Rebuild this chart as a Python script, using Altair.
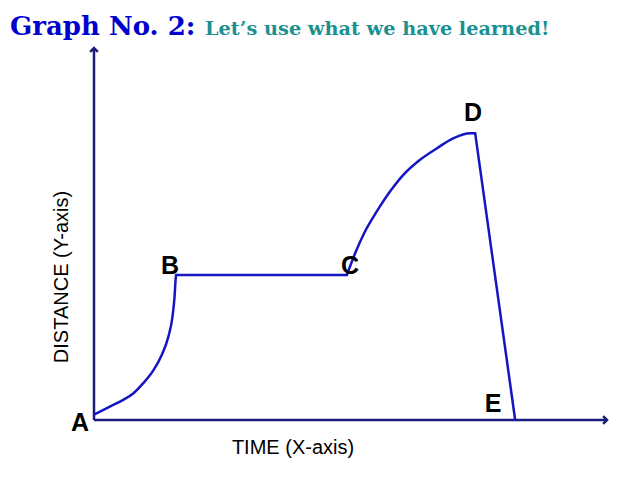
import altair as alt
import pandas as pd

# Curve path A -> B -> C -> D -> E (data units: x 0..100 time, y 0..100 distance)
seg_ab_x = [0.2, 3.1, 5.7, 7.7, 9.6, 11.6, 13.2, 14.5, 15.3, 15.7, 15.9, 16.0]
seg_ab_y = [1.6, 3.6, 5.4, 7.2, 9.9, 13.4, 17.5, 22.4, 27.8, 33.1, 37.6, 39.0]
seg_bc_x = [16.0, 49.3]
seg_bc_y = [39.0, 39.0]
seg_cd_x = [49.3, 50.9, 52.8, 55.1, 57.7, 60.3, 63.5, 66.8, 70.0, 73.3, 74.3]
seg_cd_y = [39.0, 44.8, 50.6, 56.0, 61.4, 65.9, 69.9, 73.0, 75.7, 77.1, 77.1]
seg_de_x = [74.3, 82.1]
seg_de_y = [77.1, 0.0]

# Point labels
label_text = ["A", "B", "C", "D", "E"]
label_x = [-2.7, 14.8, 49.9, 73.9, 77.8]
label_y = [-0.8, 41.4, 41.4, 82.5, 4.3]

# Axis lines
axis_x = [0, 0]
axis_x2 = [100, 0]
axis_y = [0, 0]
axis_y2 = [0, 100]

W, H = 513, 372

rows = []
for seg, (sx, sy) in enumerate([(seg_ab_x, seg_ab_y), (seg_bc_x, seg_bc_y),
                                (seg_cd_x, seg_cd_y), (seg_de_x, seg_de_y)]):
    for i, (a, b) in enumerate(zip(sx, sy)):
        rows.append({"x": a, "y": b, "seg": seg, "order": i})
curve = pd.DataFrame(rows)
labels = pd.DataFrame({"x": label_x, "y": label_y, "t": label_text})
axes = pd.DataFrame({"x": axis_x, "x2": axis_x2, "y": axis_y, "y2": axis_y2})
heads = pd.DataFrame({"x": [100, 0], "y": [0, 100], "dir": ["right", "up"]})

xs = alt.Scale(domain=[0, 100], nice=False, zero=False)
ys = alt.Scale(domain=[0, 100], nice=False, zero=False)

axis_color = "#1c1c7a"
curve_color = "#1515c4"

base_axes = alt.Chart(axes).mark_rule(color=axis_color, strokeWidth=2.5).encode(
    x=alt.X("x:Q", scale=xs, axis=None),
    x2="x2:Q",
    y=alt.Y("y:Q", scale=ys, axis=None),
    y2="y2:Q",
)

head_right = alt.Chart(heads[heads["dir"] == "right"]).mark_point(
    shape="M-1,-1L0,0L-1,1", size=60, filled=False, color=axis_color, strokeWidth=2.5, opacity=1
).encode(x=alt.X("x:Q", scale=xs, axis=None), y=alt.Y("y:Q", scale=ys, axis=None))

head_up = alt.Chart(heads[heads["dir"] == "up"]).mark_point(
    shape="M-1,1L0,0L1,1", size=60, filled=False, color=axis_color, strokeWidth=2.5, opacity=1
).encode(x=alt.X("x:Q", scale=xs, axis=None), y=alt.Y("y:Q", scale=ys, axis=None))

line = alt.Chart(curve).mark_line(color=curve_color, strokeWidth=2.5, interpolate="monotone",
                                  strokeJoin="round", strokeCap="round").encode(
    x=alt.X("x:Q", scale=xs, axis=None),
    y=alt.Y("y:Q", scale=ys, axis=None),
    detail="seg:N",
    order="order:Q",
)

text = alt.Chart(labels).mark_text(
    font="Liberation Sans", fontWeight="bold", fontSize=25, color="black", baseline="middle", align="center"
).encode(
    x=alt.X("x:Q", scale=xs, axis=None),
    y=alt.Y("y:Q", scale=ys, axis=None),
    text="t:N",
)

ytitle = alt.Chart(pd.DataFrame({"t": ["DISTANCE (Y-axis)"]})).mark_text(
    font="Liberation Sans", fontSize=20, color="black", angle=270, align="center", baseline="middle"
).encode(x=alt.value(-32), y=alt.value(229), text="t:N")

xtitle = alt.Chart(pd.DataFrame({"t": ["TIME (X-axis)"]})).mark_text(
    font="Liberation Sans", fontSize=20, color="black", align="center", baseline="middle"
).encode(x=alt.value(199), y=alt.value(400), text="t:N")

title1 = alt.Chart(pd.DataFrame({"t": ["Graph No. 2:"]})).mark_text(
    font="DejaVu Serif", fontWeight="bold", fontSize=26, color="#0000cc", align="left", baseline="alphabetic"
).encode(x=alt.value(-84), y=alt.value(-13), text="t:N")

title2 = alt.Chart(pd.DataFrame({"t": ["Let\u2019s use what we have learned!"]})).mark_text(
    font="DejaVu Serif", fontWeight="bold", fontSize=19.3, color="#1a9090", align="left", baseline="alphabetic"
).encode(x=alt.value(111), y=alt.value(-13), text="t:N")

chart = alt.layer(base_axes, head_right, head_up, line, text, ytitle, xtitle, title1, title2).properties(
    width=W,
    height=H,
    autosize=alt.AutoSizeParams(type="none"),
    padding={"left": 86, "top": 40, "right": 23, "bottom": 51},
).configure_view(stroke=None)

chart.save("out.html", embed_options={"renderer": "svg", "actions": False})
